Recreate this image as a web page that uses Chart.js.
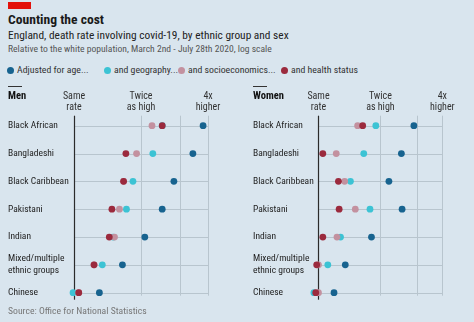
<!DOCTYPE html>
<html>
<head>
<meta charset="utf-8">
<script src="https://cdn.jsdelivr.net/npm/chart.js@4"></script>
<style>
  body { margin: 0; background: #d9e5ee; }
  #wrap { position: relative; width: 474px; height: 322px; overflow: hidden; background: #d9e5ee;
          font-family: "Liberation Sans Narrow", "Roboto Condensed", Lato, sans-serif; color: #1a1a1a; }
  #redbar { position: absolute; left: 8px; top: 2px; width: 23px; height: 7px; background: #e3120b; }
  .txt { position: absolute; left: 8px; white-space: nowrap; }
  #title { top: 11px; font-size: 13.6px; font-weight: bold; }
  #sub { top: 28px; font-size: 11.4px; color: #222; }
  #sub2 { top: 43px; font-size: 9.6px; color: #555; }
  #legend { top: 64px; font-size: 9.8px; color: #333; }
  #legend span.item { position: absolute; top: 0; }
  #legend i { display: inline-block; width: 7px; height: 7px; border-radius: 50%; margin-right: 3px; vertical-align: -0.5px; }
  #source { top: 305px; font-size: 9.7px; color: #777; }
  canvas { position: absolute; top: 80px; }
</style>
</head>
<body>
<div id="wrap">
  <div id="redbar"></div>
  <div class="txt" id="title">Counting the cost</div>
  <div class="txt" id="sub">England, death rate involving covid-19, by ethnic group and sex</div>
  <div class="txt" id="sub2">Relative to the white population, March 2nd - July 28th 2020, log scale</div>
  <div class="txt" id="legend"></div>
  <canvas id="men" width="240" height="230" style="left:0px"></canvas>
  <canvas id="women" width="229" height="230" style="left:245px"></canvas>
  <div class="txt" id="source">Source: Office for National Statistics</div>
</div>
<script>
// ethnic groups, top to bottom
const groups = ['Black African', 'Bangladeshi', 'Black Caribbean', 'Pakistani', 'Indian',
  ['Mixed/multiple', 'ethnic groups'], 'Chinese'];

const seriesNames = ['Adjusted for age...', 'and geography...', 'and socioeconomics...', 'and health status'];
const seriesColors = ['#17638f', '#3cc3d4', '#c3919f', '#9b2a3d'];
const legendX = [-1, 96, 170, 273];

// rate relative to white population
const menAge    = [3.80, 3.42, 2.81, 2.49, 2.08, 1.65, 1.30];
const menGeo    = [2.49, 2.26, 1.84, 1.72, 1.50, 1.34, 0.99];
const menSocio  = [2.24, 1.91, 1.67, 1.60, 1.52, 1.23, 1.05];
const menHealth = [2.49, 1.71, 1.67, 1.48, 1.44, 1.23, 1.05];

const womenAge    = [2.91, 2.53, 2.20, 2.55, 1.81, 1.35, 1.19];
const womenGeo    = [1.90, 1.66, 1.43, 1.78, 1.28, 1.11, 0.95];
const womenSocio  = [1.55, 1.22, 1.34, 1.51, 1.23, 1.00, 1.00];
const womenHealth = [1.64, 1.05, 1.25, 1.26, 1.05, 0.98, 0.97];

// header guides along the rate axis
const guideValues = [1, 2, 4];
const guideLabels = [['Same', 'rate'], ['Twice', 'as high'], ['4x', 'higher']];
const gridValues = [2, 3, 4];

const FONT = '"Liberation Sans Narrow", "Roboto Condensed", Lato, sans-serif';

// html legend
const legendEl = document.getElementById('legend');
seriesNames.forEach((name, i) => {
  const s = document.createElement('span');
  s.className = 'item';
  s.style.left = legendX[i] + 'px';
  s.innerHTML = '<i style="background:' + seriesColors[i] + '"></i>' + name;
  legendEl.appendChild(s);
});

// row lines, vertical guides, group names and headers
const panelDecor = {
  id: 'panelDecor',
  beforeDatasetsDraw(chart, args, opts) {
    const ctx = chart.ctx;
    const xs = chart.scales.x, ys = chart.scales.y;
    const x1 = xs.getPixelForValue(1);
    const x4 = xs.getPixelForValue(4);
    const top = ys.getPixelForValue(0) - 10;
    const bottom = ys.getPixelForValue(groups.length - 1);
    ctx.save();
    ctx.strokeStyle = '#b8c5ce';
    ctx.lineWidth = 1;
    groups.forEach((g, i) => {
      const y = Math.round(ys.getPixelForValue(i)) + 0.5;
      ctx.beginPath();
      ctx.moveTo(x1, y);
      ctx.lineTo(x4, y);
      ctx.stroke();
    });
    gridValues.forEach(v => {
      const x = Math.round(xs.getPixelForValue(v)) + 0.5;
      ctx.beginPath();
      ctx.moveTo(x, top);
      ctx.lineTo(x, bottom + 3);
      ctx.stroke();
    });
    ctx.strokeStyle = '#2b2b2b';
    ctx.lineWidth = 1.2;
    ctx.beginPath();
    ctx.moveTo(Math.round(x1) + 0.5, top);
    ctx.lineTo(Math.round(x1) + 0.5, bottom + 7);
    ctx.stroke();

    // group names down the left side
    ctx.fillStyle = '#222';
    ctx.font = '9.5px ' + FONT;
    ctx.textAlign = 'left';
    ctx.textBaseline = 'middle';
    groups.forEach((g, i) => {
      const y = ys.getPixelForValue(i);
      const lines = Array.isArray(g) ? g : [g];
      const lh = 11.7;
      lines.forEach((ln, k) => {
        ctx.fillText(ln, 8, y + (k - (lines.length - 1) / 2) * lh);
      });
    });
    ctx.restore();
  },
  afterDraw(chart, args, opts) {
    const ctx = chart.ctx;
    const xs = chart.scales.x;
    ctx.save();
    // panel title with short rule above
    ctx.fillStyle = '#333';
    ctx.fillRect(8, 6, 14, 1);
    ctx.fillStyle = '#111';
    ctx.font = 'bold 10.5px ' + FONT;
    ctx.textBaseline = 'middle';
    ctx.textAlign = 'left';
    ctx.fillText(opts.title, 8, 16);
    ctx.font = '10px ' + FONT;
    ctx.fillStyle = '#333';
    ctx.textAlign = 'center';
    guideValues.forEach((v, i) => {
      const x = xs.getPixelForValue(v);
      ctx.fillText(guideLabels[i][0], x, 16);
      ctx.fillText(guideLabels[i][1], x, 27);
    });
    ctx.restore();
  }
};

function makePanel(id, title, series) {
  const ctx = document.getElementById(id).getContext('2d');
  return new Chart(ctx, {
    type: 'scatter',
    data: {
      datasets: series.map((vals, s) => ({
        label: seriesNames[s],
        data: vals.map((v, i) => ({ x: v, y: i })),
        backgroundColor: seriesColors[s],
        borderWidth: 0,
        pointRadius: 3.4,
        order: series.length - s,
        clip: false
      }))
    },
    options: {
      responsive: false,
      animation: false,
      events: [],
      layout: { padding: { left: 8, top: 45.7, right: 28.4, bottom: 17.3 } },
      plugins: {
        legend: { display: false },
        tooltip: { enabled: false },
        panelDecor: { title: title }
      },
      scales: {
        x: {
          type: 'logarithmic',
          min: 0.93,
          max: 4.15,
          display: false
        },
        y: {
          type: 'linear',
          reverse: true,
          min: 0,
          max: groups.length - 1,
          grid: { display: false },
          border: { display: false },
          ticks: { display: false },
          afterFit: scale => { scale.width = 59; }
        }
      }
    },
    plugins: [panelDecor]
  });
}

makePanel('men', 'Men', [menAge, menGeo, menSocio, menHealth]);
makePanel('women', 'Women', [womenAge, womenGeo, womenSocio, womenHealth]);
</script>
</body>
</html>
